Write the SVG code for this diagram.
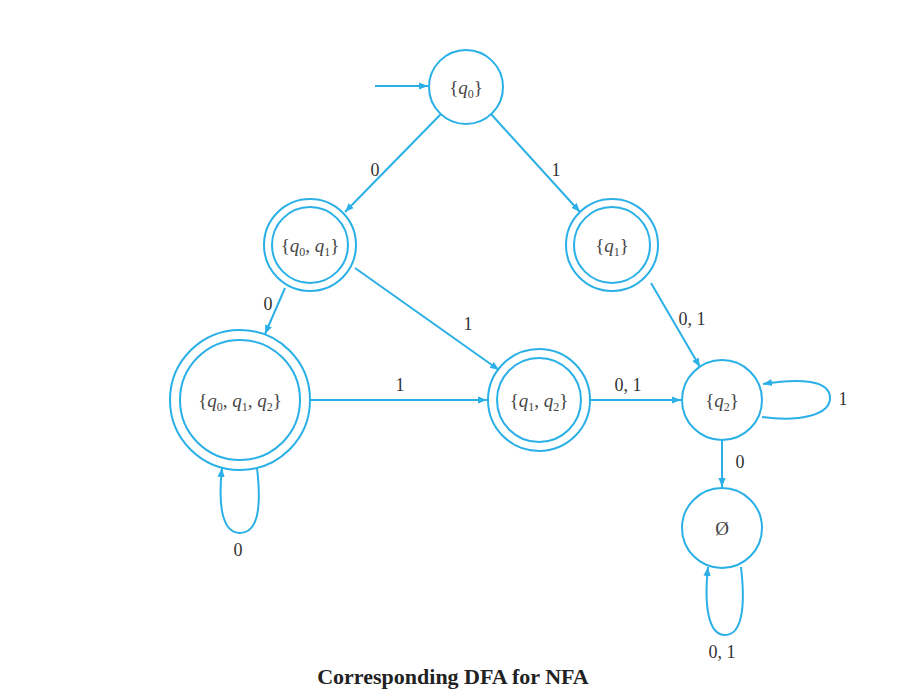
<svg xmlns="http://www.w3.org/2000/svg" width="902" height="696" viewBox="0 0 902 696">
<style>
.s{fill:none;stroke:#2ab0e6;stroke-width:2}
.e{fill:none;stroke:#2ab0e6;stroke-width:2;marker-end:url(#a)}
.t{font-family:"Liberation Serif",serif;font-size:19px;fill:#444;text-anchor:middle}
.l{font-family:"Liberation Serif",serif;font-size:18px;fill:#333;text-anchor:middle}
.i{font-style:italic}
</style>
<defs><marker id="a" viewBox="0 0 10 10" refX="10" refY="5" markerWidth="9" markerHeight="9" markerUnits="userSpaceOnUse" orient="auto"><path d="M0,1 L10,5 L0,9 z" fill="#2ab0e6"/></marker></defs>
<rect width="902" height="696" fill="#fff"/>
<g id="connectors">
<path class="e" d="M375,86 L428,86"/>
<path class="e" d="M441,114 L345,212"/>
<path class="e" d="M491,114 L580,212"/>
<path class="e" d="M285,288 L265,334"/>
<path class="e" d="M355,268 L499,370"/>
<path class="e" d="M651,283 L700,367"/>
<path class="e" d="M310,400 L487,400"/>
<path class="e" d="M590,400 L681,400"/>
<path class="e" d="M722,440 L722,487"/>
<path class="e" d="M257,468 C262,510 257,533 240,533 C222,533 218,505 222,468"/>
<path class="e" d="M762,417 C800,422 830,415 830,398 C830,380 800,378 763,384"/>
<path class="e" d="M741,567 C746,610 741,635 725,635 C708,635 704,605 708,567"/>
<text class="l" x="375" y="176">0</text>
<text class="l" x="556" y="176">1</text>
<text class="l" x="268" y="310">0</text>
<text class="l" x="468" y="330">1</text>
<text class="l" x="692" y="325">0, 1</text>
<text class="l" x="400" y="391">1</text>
<text class="l" x="628" y="391">0, 1</text>
<text class="l" x="843" y="405">1</text>
<text class="l" x="740" y="468">0</text>
<text class="l" x="238" y="556">0</text>
<text class="l" x="722" y="658">0, 1</text>
</g>
<g id="q0"><circle class="s" cx="466" cy="87" r="37"/><text class="t" x="466" y="94">{<tspan class="i">q</tspan><tspan font-size="12" dy="4">0</tspan><tspan dy="-4">}</tspan></text></g>
<g id="q0q1"><circle class="s" cx="310" cy="245" r="46"/><circle class="s" cx="310" cy="245" r="38"/><text class="t" x="310" y="252">{<tspan class="i">q</tspan><tspan font-size="12" dy="4">0</tspan><tspan dy="-4">, </tspan><tspan class="i">q</tspan><tspan font-size="12" dy="4">1</tspan><tspan dy="-4">}</tspan></text></g>
<g id="q1"><circle class="s" cx="612" cy="245" r="46"/><circle class="s" cx="612" cy="245" r="38"/><text class="t" x="612" y="252">{<tspan class="i">q</tspan><tspan font-size="12" dy="4">1</tspan><tspan dy="-4">}</tspan></text></g>
<g id="q0q1q2"><circle class="s" cx="240" cy="400" r="70"/><circle class="s" cx="240" cy="400" r="60"/><text class="t" x="240" y="407">{<tspan class="i">q</tspan><tspan font-size="12" dy="4">0</tspan><tspan dy="-4">, </tspan><tspan class="i">q</tspan><tspan font-size="12" dy="4">1</tspan><tspan dy="-4">, </tspan><tspan class="i">q</tspan><tspan font-size="12" dy="4">2</tspan><tspan dy="-4">}</tspan></text></g>
<g id="q1q2"><circle class="s" cx="539" cy="400" r="51"/><circle class="s" cx="539" cy="400" r="42"/><text class="t" x="539" y="407">{<tspan class="i">q</tspan><tspan font-size="12" dy="4">1</tspan><tspan dy="-4">, </tspan><tspan class="i">q</tspan><tspan font-size="12" dy="4">2</tspan><tspan dy="-4">}</tspan></text></g>
<g id="q2"><circle class="s" cx="722" cy="400" r="40"/><text class="t" x="722" y="407">{<tspan class="i">q</tspan><tspan font-size="12" dy="4">2</tspan><tspan dy="-4">}</tspan></text></g>
<g id="empty"><circle class="s" cx="722" cy="528" r="40"/><text class="t" x="722" y="535">Ø</text></g>
<text x="453" y="684" font-family="Liberation Serif, serif" font-size="22" font-weight="bold" fill="#222" text-anchor="middle">Corresponding DFA for NFA</text>
</svg>
